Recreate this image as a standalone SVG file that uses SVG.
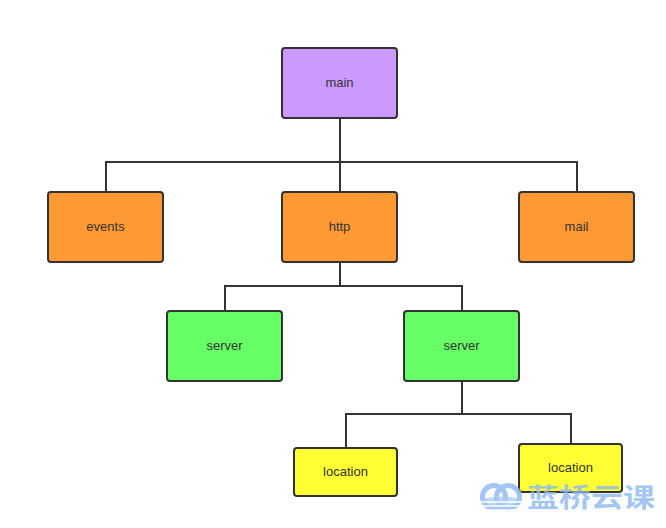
<svg xmlns="http://www.w3.org/2000/svg" width="666" height="528" viewBox="0 0 666 528">
<style>
.n{stroke:#333;stroke-width:2}
.t{font-family:"Liberation Sans",Arial,sans-serif;font-size:13px;fill:#333;text-anchor:middle}
.c{fill:none;stroke:#333;stroke-width:2}
.w{fill:none;stroke:#8db9f2;stroke-width:5}
.s{fill:none;stroke:#ffffff;stroke-width:1.500}
</style>
<rect width="666" height="528" fill="#ffffff"/>
<g id="connectors">
<path class="c" d="M340 118V192M106 192V162H577V192"/>
<path class="c" d="M340 262V286M225 311V286H462V311"/>
<path class="c" d="M462 381V414M346 448V414H571V444"/>
</g>
<g id="main"><rect class="n" x="282" y="48" width="115" height="70" rx="3" fill="#cc99ff"/><text class="t" x="339.500" y="87">main</text></g>
<g id="events"><rect class="n" x="48" y="192" width="115" height="70" rx="3" fill="#ff9933"/><text class="t" x="105.500" y="231">events</text></g>
<g id="http"><rect class="n" x="282" y="192" width="115" height="70" rx="3" fill="#ff9933"/><text class="t" x="339.500" y="231">http</text></g>
<g id="mail"><rect class="n" x="519" y="192" width="115" height="70" rx="3" fill="#ff9933"/><text class="t" x="576.500" y="231">mail</text></g>
<g id="server1"><rect class="n" x="167" y="311" width="115" height="70" rx="3" fill="#66ff66"/><text class="t" x="224.500" y="350">server</text></g>
<g id="server2"><rect class="n" x="404" y="311" width="115" height="70" rx="3" fill="#66ff66"/><text class="t" x="461.500" y="350">server</text></g>
<g id="location1"><rect class="n" x="294" y="448" width="103" height="48" rx="3" fill="#ffff33"/><text class="t" x="345.500" y="476">location</text></g>
<g id="location2"><rect class="n" x="519" y="444" width="103" height="48" rx="3" fill="#ffff33"/><text class="t" x="570.500" y="472">location</text></g>
<g id="watermark" opacity="0.8">
<ellipse class="w" cx="494" cy="497" rx="11.500" ry="11.500"/>
<ellipse class="w" cx="508" cy="497" rx="11.500" ry="11.500"/>
<path d="M482 499Q501 494 520 499L518 507Q501 512 484 507Z" fill="#8db9f2" opacity="0.7"/>
<path class="s" d="M480 502H523M480 506H523M480 510H523"/>
<text transform="translate(527 507) scale(1 .8)" x="0" y="0" font-family="'Noto Sans CJK SC',sans-serif" font-size="32" font-weight="700" fill="#8db9f2">蓝桥云课</text>
</g>
</svg>
